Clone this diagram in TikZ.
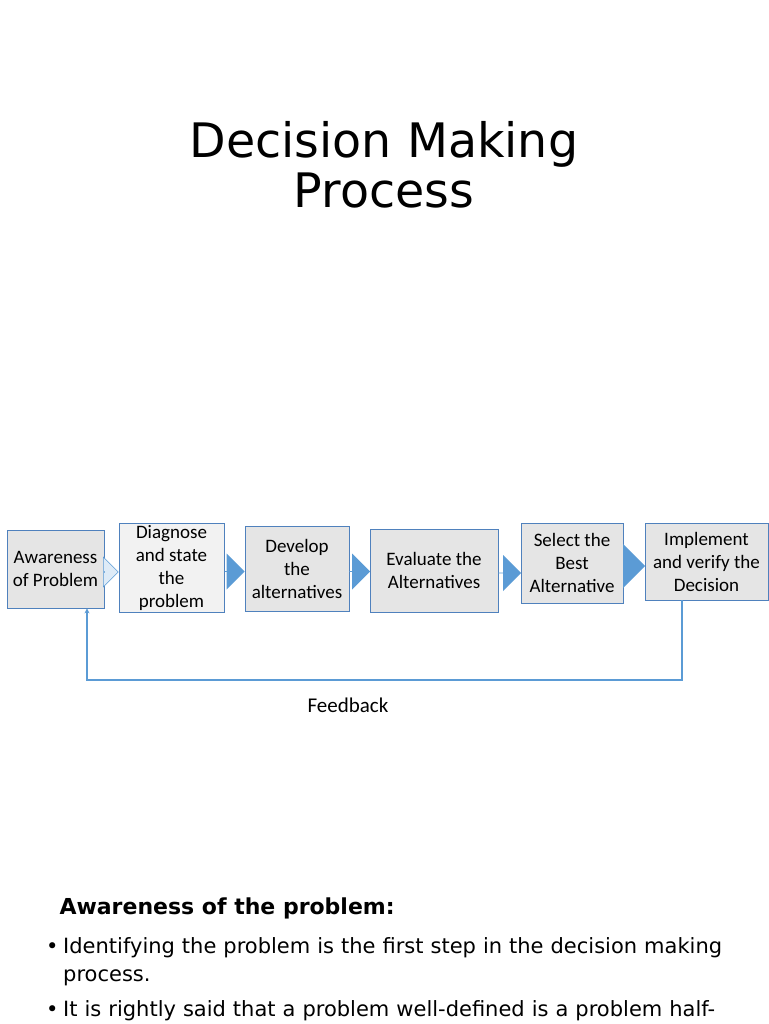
\documentclass[tikz,border=0pt]{standalone}
\usepackage{fontspec}
\setmainfont{DejaVu Sans}
\newfontfamily\carl{Carlito}
\usetikzlibrary{shapes.arrows,arrows.meta}
\definecolor{bb}{HTML}{4F81BD}
\definecolor{ab}{HTML}{5B9BD5}
\begin{document}
\begin{tikzpicture}[x=1pt,y=-1pt,
 box/.style={draw=bb,line width=0.8pt,fill=#1,font=\carl\fontsize{19}{23}\selectfont,align=center,inner sep=0pt},
 box/.default={black!10},
 ar/.style={single arrow,draw=none,fill=ab,minimum height=#1,single arrow head extend=8pt,inner sep=0pt,minimum width=36pt},
]
\useasboundingbox (0,0) rectangle (768,1024);
\node[font=\fontsize{47.5}{50}\selectfont,align=center] (t) at (384,165) {Decision Making\\Process};
\node[box,minimum width=97,minimum height=78] (b1) at (55.5,569) {Awareness\\of Problem};
\node[box=black!5,minimum width=105,minimum height=89] (b2) at (171.5,567.5) {Diagnose\\and state\\the\\problem};
\node[box,minimum width=104,minimum height=85] (b3) at (297,568.5) {Develop\\the\\alternatives};
\node[box,minimum width=128,minimum height=83] (b4) at (434,570.5) {Evaluate the\\Alternatives};
\node[box,minimum width=102,minimum height=80] (b5) at (572,563) {Select the\\Best\\Alternative};
\node[box,minimum width=123,minimum height=77] (b6) at (706.5,561.5) {Implement\\and verify the\\Decision};
\node[single arrow,draw=ab,fill=ab!20,line width=0.5pt,minimum height=14,minimum width=30,single arrow head extend=7pt,inner sep=0pt] (a1) at (111,572) {};
\node[ar=20] (a2) at (234.5,571.5) {};
\node[ar=21] (a3) at (359.5,571.5) {};
\node[ar=23] (a4) at (509.5,573) {};
\node[ar=22,minimum width=44pt,single arrow head extend=10pt] (a5) at (634,566) {};
\coordinate (c1) at (682,680);
\coordinate (c2) at (87,680);
\draw[ab,line width=1.8pt,-{Stealth[length=5pt,width=5pt]}] (b6.south -| c1) -- (c1) -- (c2) -- (b1.south -| c2);
\node[font=\carl\fontsize{21}{24}\selectfont] (fb) at (348,705) {Feedback};
\node[anchor=west,font=\bfseries\fontsize{22}{24}\selectfont] (h) at (56,908) {Awareness of the problem:};
\node[anchor=north west,text width=720,align=left,font=\fontsize{21}{28}\selectfont,inner sep=0pt] (l) at (46,937)
 {\makebox[17pt][l]{•}Identifying the problem is the first step in the decision making\\
 \hspace*{17pt}process.\\[7pt]
 \makebox[17pt][l]{•}It is rightly said that a problem well-defined is a problem half-};
\end{tikzpicture}
\end{document}
